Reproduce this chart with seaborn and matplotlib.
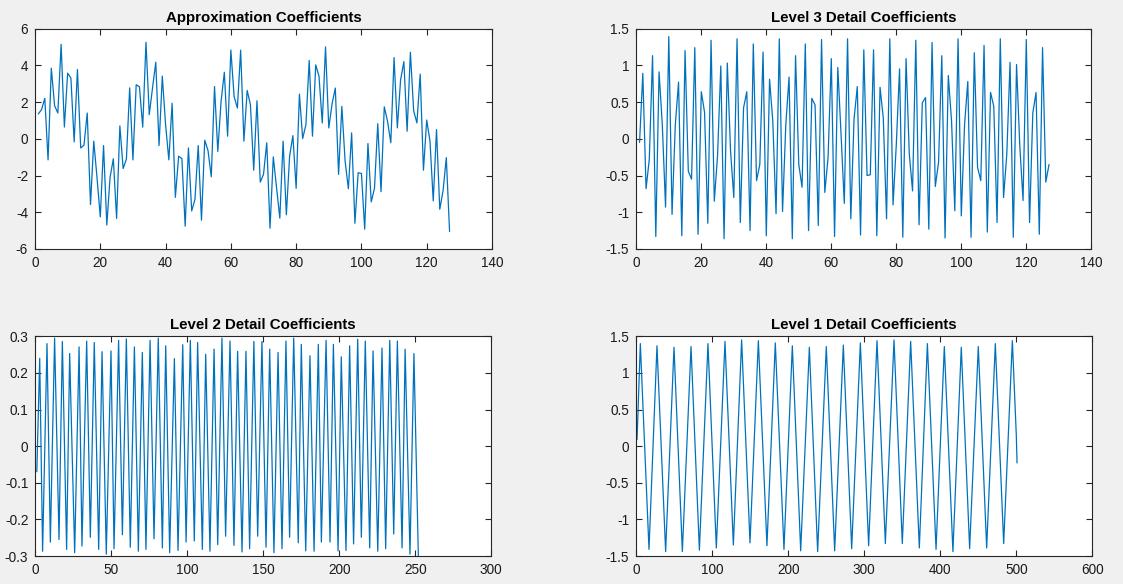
import numpy as np
import pandas as pd
import matplotlib
matplotlib.use("Agg")
import matplotlib.pyplot as plt
import seaborn as sns

# ---------------- data ----------------
approx_vals = [1.35, 1.58, 2.2, -1.15, 3.84, 1.8, 1.4, 5.14, 0.64, 3.57,
               3.3, -0.17, 3.77, -0.5, -0.35, 1.4, -3.58, -0.13, -2.12, -4.25,
               -0.37, -4.7, -2.09, -1.09, -4.34, 0.7, -1.62, -1.11, 2.77, -1.15,
               2.94, 2.83, 0.63, 5.25, 1.31, 2.76, 4.17, -0.37, 3.41, 0.77,
               -1.15, 1.93, -3.19, -0.95, -1.08, -4.76, -0.5, -3.93, -3.3, -0.37,
               -4.43, -0.08, -0.64, -2.07, 2.84, -0.69, 2.03, 3.62, 0.14, 4.83,
               2.3, 1.67, 4.82, -0.13, 2.63, 1.85, -1.71, 2.07, -2.36, -1.94,
               -0.22, -4.87, -0.99, -2.66, -4.32, -0.13, -4.14, -0.95, 0.17, -2.7,
               2.43, 0.01, 0.77, 4.26, 0.14, 4.02, 3.4, 0.86, 5.0, 0.59,
               1.89, 2.76, -1.94, 1.76, -1.22, -2.72, 0.32, -4.6, -1.85, -1.89,
               -4.92, -0.26, -3.44, -2.7, 0.82, -2.88, 1.74, 0.95, -0.22, 4.42,
               0.59, 3.21, 4.2, 0.41, 4.71, 1.52, 0.86, 3.52, -1.71, 1.02,
               -0.13, -3.38, 0.5, -3.84, -2.84, -1.03, -5.05]

level3_vals = [-0.05, 0.89, -0.68, -0.28, 1.13, -1.33, 0.91, 0.19, -0.93, 1.39,
               -1.03, 0.19, 0.77, -1.32, 1.2, -0.44, -0.55, 1.24, -1.3, 0.64,
               0.36, -1.15, 1.34, -0.85, -0.23, 0.99, -1.36, 1.03, -0.17, -0.8,
               1.36, -1.14, 0.42, 0.64, -1.25, 1.29, -0.57, -0.35, 1.18, -1.32,
               0.81, 0.24, -1.02, 1.36, -0.99, 0.19, 0.84, -1.36, 1.13, -0.35,
               -0.66, 1.29, -1.25, 0.55, 0.46, -1.18, 1.35, -0.73, -0.26, 1.09,
               -1.33, 0.97, 0.06, -0.88, 1.36, -1.09, 0.27, 0.71, -1.31, 1.21,
               -0.5, -0.49, 1.21, -1.32, 0.7, 0.28, -1.09, 1.36, -0.9, -0.08,
               0.95, -1.34, 1.09, -0.21, -0.71, 1.34, -1.17, 0.49, 0.56, -1.23,
               1.31, -0.65, -0.32, 1.13, -1.35, 0.86, 0.24, -0.98, 1.36, -1.05,
               0.19, 0.78, -1.34, 1.17, -0.39, -0.57, 1.27, -1.27, 0.63, 0.44,
               -1.14, 1.36, -0.8, -0.21, 1.04, -1.34, 1.01, -0.1, -0.84, 1.35,
               -1.14, 0.35, 0.63, -1.3, 1.24, -0.59, -0.35]

level2_x = [1, 2.9, 4.8, 7.7, 9.9, 12.7, 15.6, 17.8, 20.6, 22.6, 25.9, 28.8,
            30.7, 33.8, 36.2, 38.8, 41.7, 43.9, 46.7, 49.8, 51.8, 54.8, 57.3,
            59.9, 62.5, 65.2, 67.8, 70.4, 72.8, 75.5, 78.1, 80.9, 83.6, 85.8,
            88.4, 91.5, 93.9, 97, 99.2, 102, 104.6, 106.8, 109.9, 112.1, 114.9,
            117.6, 120, 122.8, 125.2, 128.1, 130.7, 133.1, 136, 138.6, 141,
            143.8, 146.3, 149.1, 151.8, 154.2, 157, 159.7, 162.3, 164.9, 167.3,
            170, 173, 175, 177.9, 180.7, 183.4, 186.2, 188.2, 191.3, 193.9,
            196.1, 199.2, 201.3, 204.4, 206.8, 209.4, 212.1, 214.5, 217.1, 220,
            222.2, 225.3, 228.1, 230.5, 233.2, 235.8, 238.2, 241.3, 243.3,
            246.5, 249.1, 252]
level2_vals = [-0.07, 0.24, -0.287, 0.28, -0.262, 0.295, -0.255, 0.286, -0.282,
               0.253, -0.291, 0.271, -0.273, 0.287, -0.249, 0.283, -0.282, 0.258,
               -0.295, 0.26, -0.28, 0.289, -0.242, 0.293, -0.276, 0.271, -0.287,
               0.256, -0.282, 0.289, -0.253, 0.295, -0.278, 0.274, -0.291, 0.239,
               -0.285, 0.277, -0.262, 0.289, -0.259, 0.283, -0.282, 0.251, -0.287,
               0.265, -0.269, 0.295, -0.246, 0.287, -0.271, 0.259, -0.289, 0.259,
               -0.28, 0.286, -0.246, 0.286, -0.276, 0.265, -0.291, 0.256, -0.28,
               0.287, -0.249, 0.295, -0.264, 0.278, -0.286, 0.247, -0.287, 0.278,
               -0.262, 0.289, -0.262, 0.278, -0.286, 0.244, -0.285, 0.274, -0.267,
               0.292, -0.249, 0.287, -0.278, 0.26, -0.287, 0.268, -0.28, 0.289,
               -0.24, 0.287, -0.278, 0.265, -0.295, 0.253, -0.3]

level1_x = [1, 5.3, 16.7, 27.2, 38.6, 49.6, 60.6, 72, 83, 94.3, 105.3, 116.7,
            127.7, 138.6, 149.6, 160.6, 171.9, 182.9, 194.3, 205.3, 216.3,
            227.7, 238.6, 250, 261, 272.4, 283.4, 294.8, 305.7, 316.7, 327.7,
            339.1, 350, 361, 372.4, 383, 394.4, 405.3, 416.6, 427.6, 438.6, 450,
            461, 472.4, 483.4, 494.8, 500, 501]
level1_vals = [0.09, 1.40, -1.41, 1.37, -1.44, 1.35, -1.44, 1.36, -1.42, 1.40,
               -1.39, 1.43, -1.35, 1.45, -1.32, 1.44, -1.36, 1.41, -1.41, 1.37,
               -1.43, 1.35, -1.44, 1.36, -1.43, 1.38, -1.40, 1.41, -1.36, 1.44,
               -1.33, 1.45, -1.33, 1.43, -1.39, 1.40, -1.41, 1.36, -1.44, 1.35,
               -1.40, 1.36, -1.39, 1.40, -1.33, 1.44, 0.15, -0.23]

titles = ["Approximation Coefficients", "Level 3 Detail Coefficients",
          "Level 2 Detail Coefficients", "Level 1 Detail Coefficients"]

# ---------------- styling ----------------
sns.set_theme(style="ticks")
plt.rcParams['font.family'] = ['Liberation Sans', 'DejaVu Sans']

LINE = "#0072BD"
DARK = "#262626"
BG = "#f0f0f0"

fig = plt.figure(figsize=(11.23, 5.84), dpi=100)
fig.patch.set_facecolor(BG)

W, H = 1123.0, 584.0
def add_axes(left, top, right, bottom):
    return fig.add_axes([left / W, 1 - bottom / H, (right - left) / W, (bottom - top) / H])

ax_tl = add_axes(35, 28.5, 492, 249)
ax_tr = add_axes(636.3, 28.5, 1091.3, 249)
ax_bl = add_axes(35.3, 336.3, 491.3, 556)
ax_br = add_axes(636.3, 336.3, 1092.3, 556)

panels = [
    (ax_tl, pd.DataFrame({"x": np.arange(1, len(approx_vals) + 1), "y": approx_vals}),
     (0, 140), np.arange(0, 141, 20), (-6, 6), np.arange(-6, 7, 2), titles[0]),
    (ax_tr, pd.DataFrame({"x": np.arange(1, len(level3_vals) + 1), "y": level3_vals}),
     (0, 140), np.arange(0, 141, 20), (-1.5, 1.5), np.arange(-1.5, 1.51, 0.5), titles[1]),
    (ax_bl, pd.DataFrame({"x": level2_x, "y": level2_vals}),
     (0, 300), np.arange(0, 301, 50), (-0.3, 0.3), np.arange(-0.3, 0.31, 0.1), titles[2]),
    (ax_br, pd.DataFrame({"x": level1_x, "y": level1_vals}),
     (0, 600), np.arange(0, 601, 100), (-1.5, 1.5), np.arange(-1.5, 1.51, 0.5), titles[3]),
]

def fmt(v):
    v = round(v, 2)
    if abs(v) < 1e-9:
        return "0"
    return "%g" % v

for ax, df, xl, xt, yl, yt, title in panels:
    sns.lineplot(data=df, x="x", y="y", ax=ax, color=LINE, linewidth=0.9,
                 estimator=None, sort=False)
    ax.set_xlim(*xl)
    ax.set_ylim(*yl)
    ax.set_xticks(xt)
    ax.set_yticks(yt)
    ax.set_xticklabels([fmt(v) for v in xt])
    ax.set_yticklabels([fmt(v) for v in yt])
    ax.set_xlabel("")
    ax.set_ylabel("")
    ax.set_facecolor("white")
    for s in ax.spines.values():
        s.set_visible(True)
        s.set_color(DARK)
        s.set_linewidth(0.8)
    ax.tick_params(direction="in", length=4, width=0.8, color=DARK,
                   labelsize=9.8, labelcolor="#1a1a1a", top=True, right=True, pad=5)
    ax.set_title(title, fontsize=10.8, fontweight="bold", color="black", pad=5)

fig.savefig("out.png", dpi=100, facecolor=BG)
